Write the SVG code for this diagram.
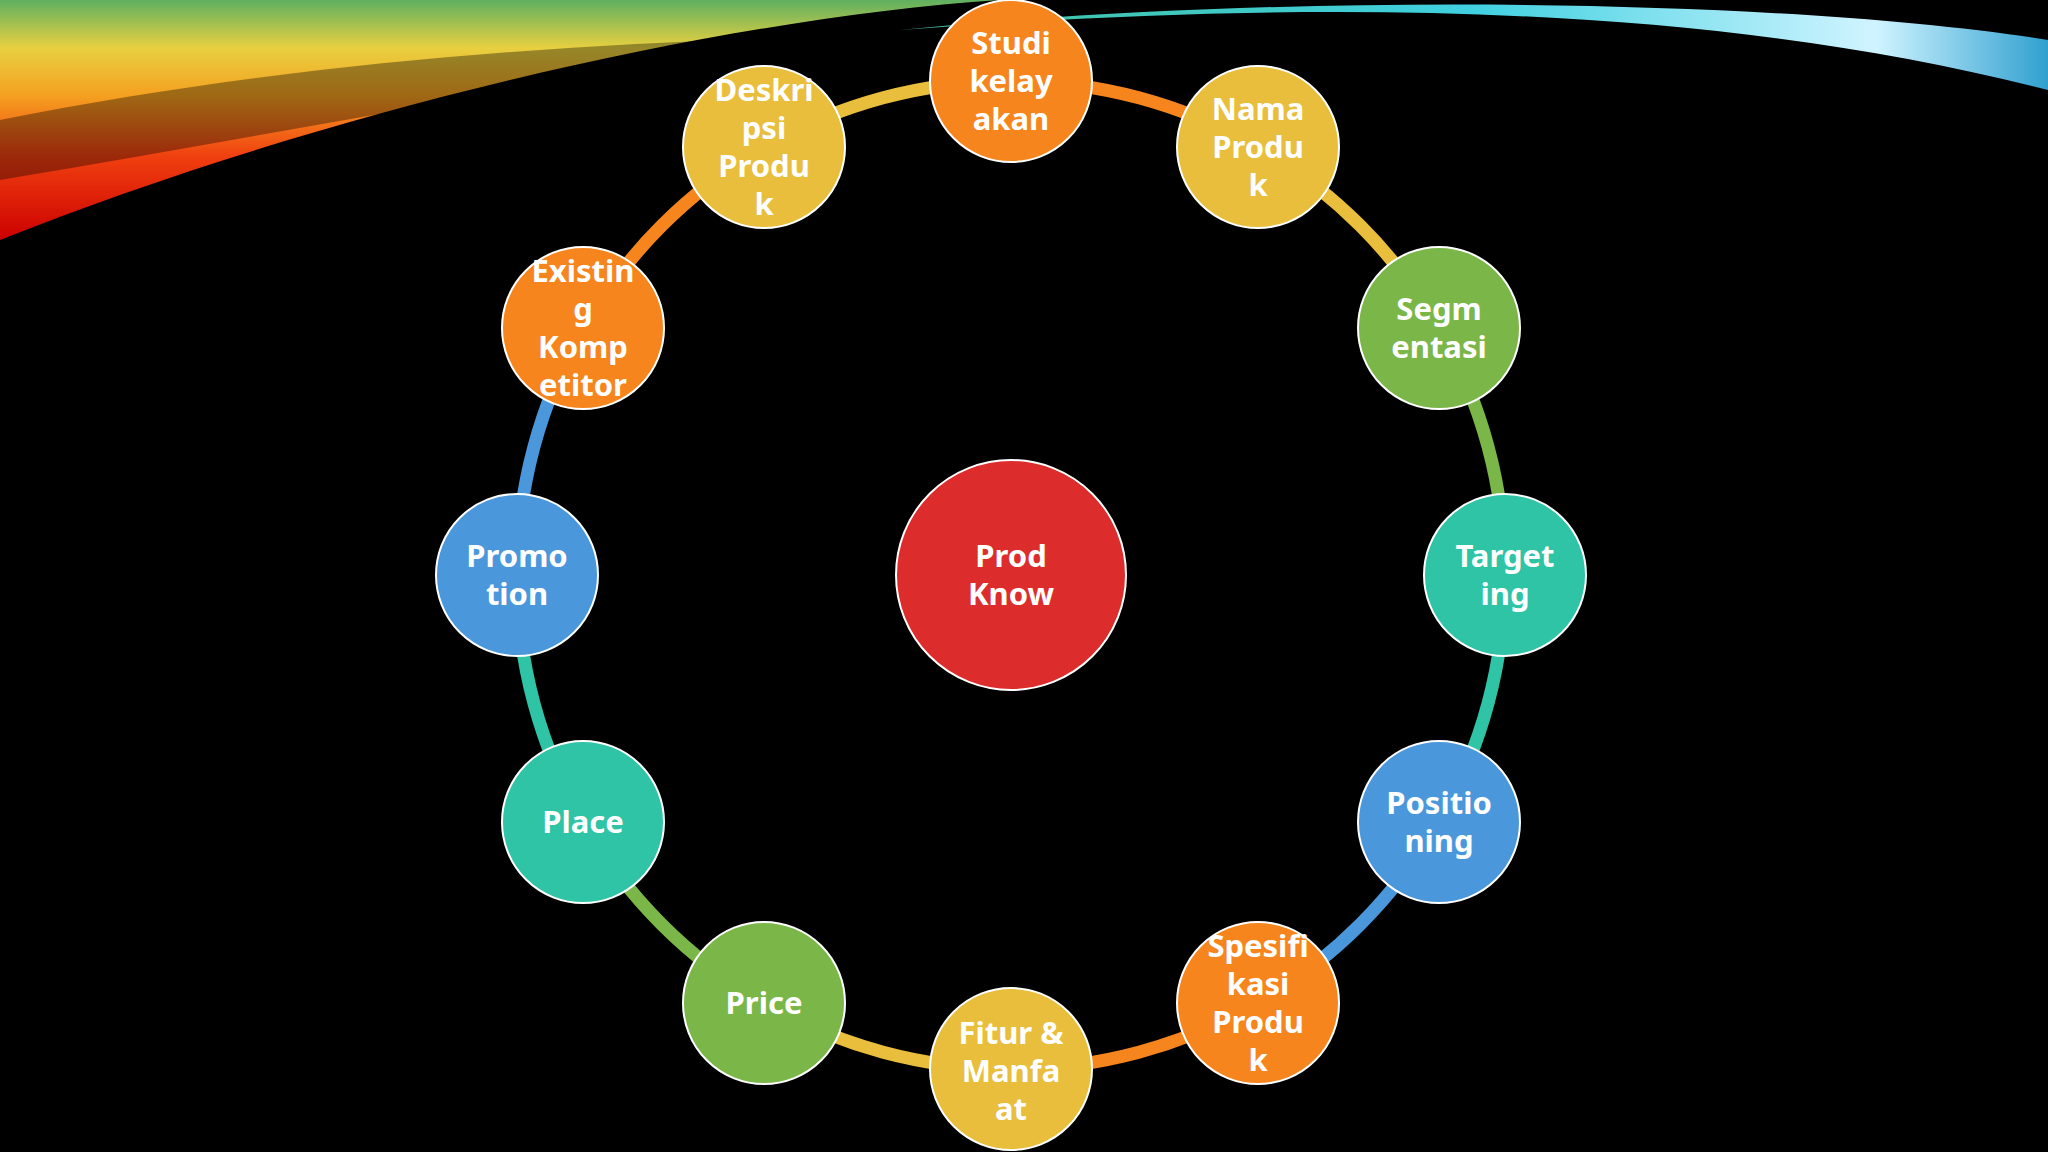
<svg xmlns="http://www.w3.org/2000/svg" width="2048" height="1152" viewBox="0 0 2048 1152">
<defs>
<linearGradient id="sw" x1="0" y1="1" x2="0" y2="0">
<stop offset="0" stop-color="#c00"/><stop offset="0.35" stop-color="#f04010"/><stop offset="0.6" stop-color="#f5a020"/><stop offset="0.8" stop-color="#e8d040"/><stop offset="1" stop-color="#60b060"/>
</linearGradient>
<linearGradient id="sw2" x1="0" y1="0" x2="1" y2="0">
<stop offset="0" stop-color="#40c0a0"/><stop offset="0.5" stop-color="#40d0e0"/><stop offset="0.85" stop-color="#d0f4ff"/><stop offset="1" stop-color="#30a0d0"/>
</linearGradient>
</defs>
<style>
.n{stroke:#fff;stroke-width:2}
.t{font-family:"Noto Sans",Lato,sans-serif;font-weight:bold;font-size:31px;fill:#fff;text-anchor:middle}
.a{fill:none;stroke-width:13}
.o{fill:#F7851E}.y{fill:#E8BE3C}.g{fill:#7AB648}.c{fill:#2EC4A5}.b{fill:#4A98DB}
</style>
<rect width="2048" height="1152" fill="#000"/>
<path d="M0 0 L1000 0 C700 20 300 120 0 240 Z" fill="url(#sw)"/>
<path d="M0 120 C300 60 600 40 900 35 C600 70 300 130 0 180 Z" fill="#000" opacity="0.35"/>
<path d="M900 30 C1300 0 1700 0 2048 90 L2048 40 C1800 0 1300 -10 900 30 Z" fill="url(#sw2)"/>
<g id="connectors">
<path class="a" stroke="#F7851E" d="M1011 81 A494 494 0 0 1 1258 147.2"/>
<path class="a" stroke="#E8BE3C" d="M1258 147.2 A494 494 0 0 1 1438.8 328"/>
<path class="a" stroke="#7AB648" d="M1438.8 328 A494 494 0 0 1 1505 575"/>
<path class="a" stroke="#2EC4A5" d="M1505 575 A494 494 0 0 1 1438.8 822"/>
<path class="a" stroke="#4A98DB" d="M1438.8 822 A494 494 0 0 1 1258 1002.8"/>
<path class="a" stroke="#F7851E" d="M1258 1002.8 A494 494 0 0 1 1011 1069"/>
<path class="a" stroke="#E8BE3C" d="M1011 1069 A494 494 0 0 1 764 1002.8"/>
<path class="a" stroke="#7AB648" d="M764 1002.8 A494 494 0 0 1 583.2 822"/>
<path class="a" stroke="#2EC4A5" d="M583.2 822 A494 494 0 0 1 517 575"/>
<path class="a" stroke="#4A98DB" d="M517 575 A494 494 0 0 1 583.2 328"/>
<path class="a" stroke="#F7851E" d="M583.2 328 A494 494 0 0 1 764 147.2"/>
<path class="a" stroke="#E8BE3C" d="M764 147.2 A494 494 0 0 1 1011 81"/>
</g>
<g id="center"><circle class="n" cx="1011" cy="575" r="115" fill="#DD2C2C"/><text class="t" x="1011"><tspan x="1011" y="567">Prod</tspan><tspan x="1011" y="605">Know</tspan></text></g>
<g id="studi"><circle class="n o" cx="1011" cy="81" r="81"/><text class="t"><tspan x="1011" y="54">Studi</tspan><tspan x="1011" y="92">kelay</tspan><tspan x="1011" y="130">akan</tspan></text></g>
<g id="nama"><circle class="n y" cx="1258" cy="147" r="81"/><text class="t"><tspan x="1258" y="120">Nama</tspan><tspan x="1258" y="158">Produ</tspan><tspan x="1258" y="196">k</tspan></text></g>
<g id="segm"><circle class="n g" cx="1439" cy="328" r="81"/><text class="t"><tspan x="1439" y="320">Segm</tspan><tspan x="1439" y="358">entasi</tspan></text></g>
<g id="target"><circle class="n c" cx="1505" cy="575" r="81"/><text class="t"><tspan x="1505" y="567">Target</tspan><tspan x="1505" y="605">ing</tspan></text></g>
<g id="positio"><circle class="n b" cx="1439" cy="822" r="81"/><text class="t"><tspan x="1439" y="814">Positio</tspan><tspan x="1439" y="852">ning</tspan></text></g>
<g id="spesi"><circle class="n o" cx="1258" cy="1003" r="81"/><text class="t"><tspan x="1258" y="957">Spesifi</tspan><tspan x="1258" y="995">kasi</tspan><tspan x="1258" y="1033">Produ</tspan><tspan x="1258" y="1071">k</tspan></text></g>
<g id="fitur"><circle class="n y" cx="1011" cy="1069" r="81"/><text class="t"><tspan x="1011" y="1044">Fitur &amp;</tspan><tspan x="1011" y="1082">Manfa</tspan><tspan x="1011" y="1120">at</tspan></text></g>
<g id="price"><circle class="n g" cx="764" cy="1003" r="81"/><text class="t"><tspan x="764" y="1014">Price</tspan></text></g>
<g id="place"><circle class="n c" cx="583" cy="822" r="81"/><text class="t"><tspan x="583" y="833">Place</tspan></text></g>
<g id="promo"><circle class="n b" cx="517" cy="575" r="81"/><text class="t"><tspan x="517" y="567">Promo</tspan><tspan x="517" y="605">tion</tspan></text></g>
<g id="exist"><circle class="n o" cx="583" cy="328" r="81"/><text class="t"><tspan x="583" y="282">Existin</tspan><tspan x="583" y="320">g</tspan><tspan x="583" y="358">Komp</tspan><tspan x="583" y="396">etitor</tspan></text></g>
<g id="deskri"><circle class="n y" cx="764" cy="147" r="81"/><text class="t"><tspan x="764" y="101">Deskri</tspan><tspan x="764" y="139">psi</tspan><tspan x="764" y="177">Produ</tspan><tspan x="764" y="215">k</tspan></text></g>
</svg>
